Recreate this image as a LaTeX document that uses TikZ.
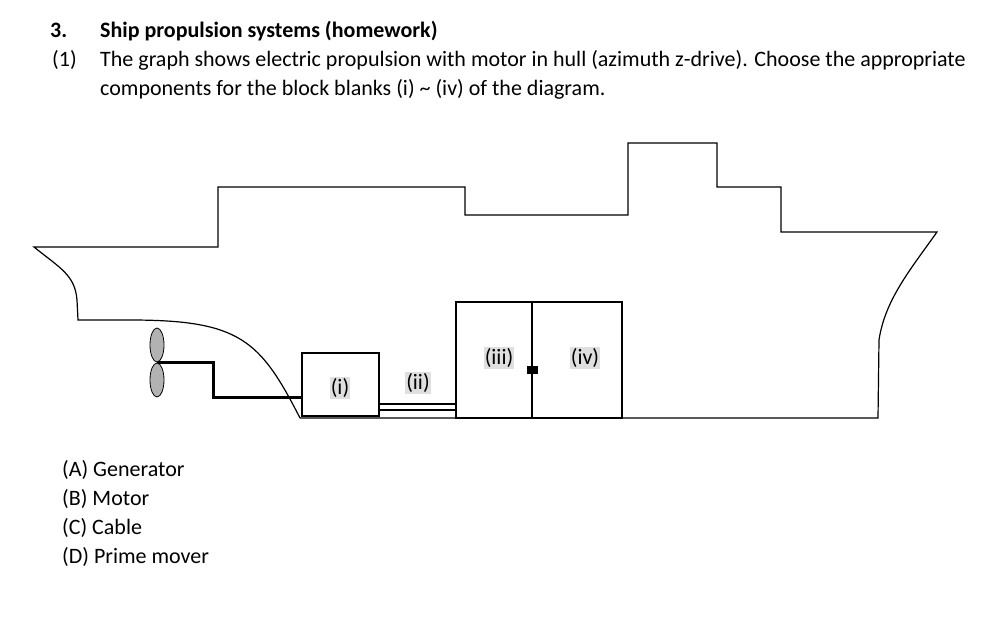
\documentclass[tikz,border=0pt]{standalone}
\usepackage{fontspec}
\setmainfont{Carlito}
\begin{document}
\begin{tikzpicture}[x=1pt,y=-1pt,
  txt/.style={anchor=base west,inner sep=0pt,font=\fontsize{22}{26}\selectfont},
  lab/.style={fill=gray!25,inner sep=1pt,font=\fontsize{22}{26}\selectfont},
  hull/.style={line width=1.2pt},
  blade/.style={draw,fill=gray!60,line width=0.8pt}]
\useasboundingbox (0,0) rectangle (997,627);
\node[txt] (t1) at (50,37) {\textbf{3.}};
\node[txt] (t2) at (100,37) {\textbf{Ship propulsion systems (homework)}};
\node[txt] (q1) at (52,66) {(1)};
\node[txt] (q2) at (100,66) {The graph shows electric propulsion with motor in hull (azimuth z-drive). Choose the appropriate};
\node[txt] (q3) at (100,95) {components for the block blanks (i) \textasciitilde{} (iv) of the diagram.};
\node[txt] (oa) at (62,476) {(A) Generator};
\node[txt] (ob) at (62,505) {(B) Motor};
\node[txt] (oc) at (62,534) {(C) Cable};
\node[txt] (od) at (62,563) {(D) Prime mover};
% hull
\draw[hull] (300,418) -- (878,418) -- (879,340) .. controls (885,300) and (910,270) .. (937,232)
  -- (781,232) -- (781,187) -- (717,187) -- (717,143) -- (628,143) -- (628,215) -- (465,215)
  -- (465,187) -- (218,187) -- (218,247) -- (34,247) .. controls (60,268) and (75,275) .. (77,300)
  -- (78,320) -- (130,320) .. controls (240,320) and (260,340) .. (300,418);
% propeller
\draw[line width=3pt] (157,362) -- (213,362) -- (213,397) -- (302,397);
\draw[blade] (157,345) ellipse (7 and 17);
\draw[blade] (157,380) ellipse (7 and 17);
% boxes
\draw[hull] (302,353) rectangle (379,416);
\node[lab] (i) at (340,388) {(i)};
\draw[hull] (379,404) -- (456,404);
\draw[hull] (379,410) -- (456,410);
\node[lab] (ii) at (418,383) {(ii)};
\draw[hull] (456,302) rectangle (622,418);
\draw[hull] (532,302) -- (532,418);
\fill (527,366) rectangle (538,374);
\node[lab] (iii) at (499,358) {(iii)};
\node[lab] (iv) at (585,358) {(iv)};
\end{tikzpicture}
\end{document}
